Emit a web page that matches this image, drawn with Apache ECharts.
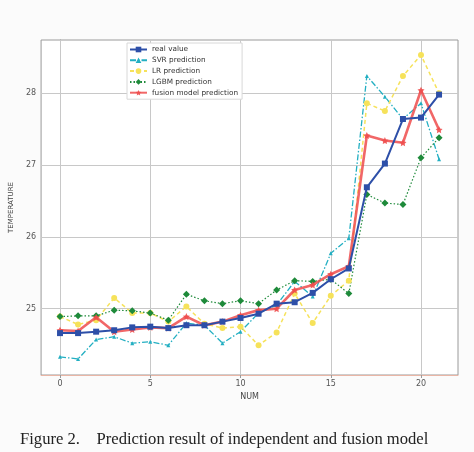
<!DOCTYPE html>
<html>
<head>
<meta charset="utf-8">
<script src="https://cdn.jsdelivr.net/npm/echarts@6/dist/echarts.min.js"></script>
<style>
  html, body { margin: 0; padding: 0; background: #fbfbfb; }
  #main { width: 474px; height: 452px; }
</style>
</head>
<body>
<div id="main"></div>
<script>
// x positions (NUM)
const num = [0, 1, 2, 3, 4, 5, 6, 7, 8, 9, 10, 11, 12, 13, 14, 15, 16, 17, 18, 19, 20, 21];
const xTicks = [0, 5, 10, 15, 20];
const yTicks = [25, 26, 27, 28];

// 各模型预测值
const realValue = [24.66, 24.66, 24.68, 24.70, 24.74, 24.75, 24.73, 24.77, 24.77, 24.82, 24.87, 24.93, 25.07, 25.09, 25.22, 25.41, 25.56, 26.69, 27.02, 27.64, 27.66, 27.98];
const svrPred = [24.33, 24.30, 24.57, 24.61, 24.52, 24.54, 24.49, 24.80, 24.77, 24.52, 24.68, 24.94, 25.05, 25.38, 25.17, 25.77, 25.98, 28.24, 27.95, 27.64, 27.86, 27.08];
const lrPred = [24.89, 24.78, 24.84, 25.15, 24.94, 24.94, 24.82, 25.03, 24.79, 24.73, 24.75, 24.49, 24.67, 25.21, 24.80, 25.18, 25.39, 27.86, 27.75, 28.24, 28.53, 28.00];
const lgbmPred = [24.89, 24.90, 24.90, 24.98, 24.97, 24.94, 24.84, 25.20, 25.11, 25.07, 25.11, 25.07, 25.26, 25.39, 25.38, 25.41, 25.21, 26.59, 26.47, 26.45, 27.10, 27.38];
const fusionPred = [24.70, 24.69, 24.88, 24.68, 24.71, 24.74, 24.73, 24.89, 24.77, 24.82, 24.91, 24.98, 25.00, 25.26, 25.33, 25.48, 25.59, 27.41, 27.34, 27.31, 28.04, 27.49];

const pair = (arr) => num.map((x, i) => [x, arr[i]]);
const starPath = "path://M0,-10 L2.9,-4 9.5,-3.1 4.7,1.5 5.9,8.1 0,5 -5.9,8.1 -4.7,1.5 -9.5,-3.1 -2.9,-4Z";
const font = "DejaVu Sans";

const chart = echarts.init(document.getElementById("main"));

// 网格线
const gridLines = xTicks.map((v) => ({ xAxis: v })).concat(yTicks.map((v) => ({ yAxis: v })));

chart.setOption({
  animation: false,
  backgroundColor: "#fbfbfb",
  textStyle: { fontFamily: font },
  grid: {
    left: 38, right: 16, top: 40, bottom: 77,
    show: true, backgroundColor: "#ffffff",
    borderColor: "#9a9a9a", borderWidth: 1,
  },
  legend: {
    orient: "vertical",
    left: 127, top: 43,
    itemWidth: 17, itemHeight: 7, itemGap: 3.8,
    padding: [3, 4, 3, 2],
    backgroundColor: "#ffffff",
    borderColor: "#d8d8d8", borderWidth: 1,
    textStyle: { fontSize: 7.3, color: "#333", fontFamily: font },
    data: ["real value", "SVR prediction", "LR prediction", "LGBM prediction", "fusion model prediction"],
  },
  xAxis: {
    type: "value",
    min: -1.05, max: 22.05,
    name: "NUM", nameLocation: "middle", nameGap: 14,
    nameTextStyle: { fontSize: 8, color: "#444" },
    axisLine: { show: true, lineStyle: { color: "#e9b5a5", width: 1 } },
    axisTick: { show: true, customValues: xTicks, length: 3, lineStyle: { color: "#999" } },
    axisLabel: { customValues: xTicks, fontSize: 8, color: "#555", margin: 5 },
    splitLine: { show: false },
  },
  yAxis: {
    type: "value",
    min: 24.077, max: 28.74,
    name: "TEMPERATURE", nameLocation: "middle", nameGap: 18, nameRotate: 90,
    nameTextStyle: { fontSize: 7, color: "#444" },
    axisLine: { show: true, lineStyle: { color: "#9a9a9a" } },
    axisTick: { show: true, customValues: yTicks, length: 3, lineStyle: { color: "#999" } },
    axisLabel: { customValues: yTicks, fontSize: 8, color: "#555", margin: 5 },
    splitLine: { show: false },
  },
  series: [
    {
      name: "grid",
      type: "line",
      data: [],
      silent: true,
      markLine: {
        silent: true, z: 1, symbol: "none",
        label: { show: false },
        lineStyle: { color: "#c8c8c8", width: 1, type: "solid" },
        data: gridLines,
      },
    },
    {
      name: "real value", type: "line", z: 5,
      data: pair(realValue),
      symbol: "rect", symbolSize: 6,
      itemStyle: { color: "#2d4fa8" },
      lineStyle: { color: "#2d4fa8", width: 2 },
    },
    {
      name: "SVR prediction", type: "line", z: 3,
      data: pair(svrPred),
      symbol: "triangle", symbolSize: 4,
      itemStyle: { color: "#23afc2" },
      lineStyle: { color: "#23afc2", width: 1.3, type: [6, 2, 1.5, 2] },
    },
    {
      name: "LR prediction", type: "line", z: 3,
      data: pair(lrPred),
      symbol: "circle", symbolSize: 6,
      itemStyle: { color: "#f6e25a" },
      lineStyle: { color: "#f6e25a", width: 1.5, type: [4, 3] },
    },
    {
      name: "LGBM prediction", type: "line", z: 3,
      data: pair(lgbmPred),
      symbol: "diamond", symbolSize: 7,
      itemStyle: { color: "#1e8a3a" },
      lineStyle: { color: "#1e8a3a", width: 1.2, type: [1.5, 2] },
    },
    {
      name: "fusion model prediction", type: "line", z: 4,
      data: pair(fusionPred),
      symbol: starPath, symbolSize: 7,
      itemStyle: { color: "#ee4c4c", opacity: 0.9 },
      lineStyle: { color: "#ee4c4c", width: 2.6, opacity: 0.85 },
    },
  ],
  graphic: [
    {
      type: "text",
      left: 20, top: 431,
      style: {
        text: "Figure 2.    Prediction result of independent and fusion model",
        font: "16.6px 'Liberation Serif'",
        fill: "#222",
      },
    },
  ],
});
</script>
</body>
</html>
